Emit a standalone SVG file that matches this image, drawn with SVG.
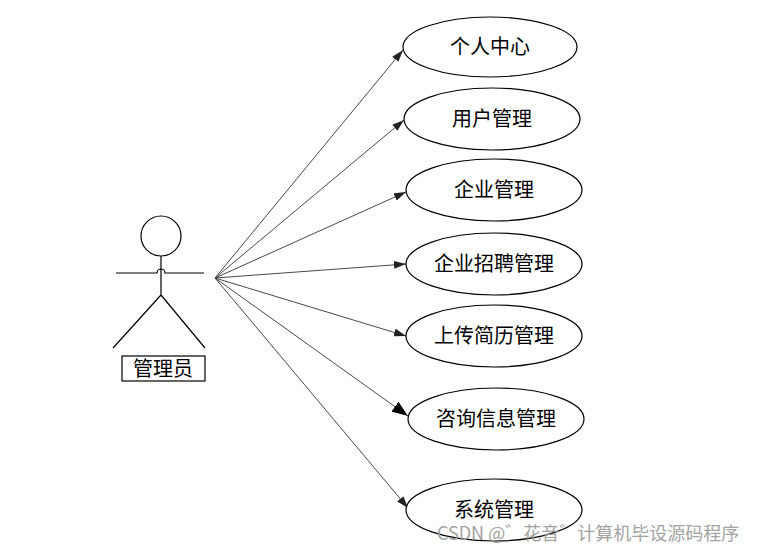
<svg xmlns="http://www.w3.org/2000/svg" width="775" height="553" viewBox="0 0 775 553">
<style>
.n ellipse{fill:#fff;stroke:#000;stroke-width:1.2}
.t{font-family:"Liberation Serif","Noto Sans CJK SC",serif;font-size:20px;text-anchor:middle;dominant-baseline:central}
#edges line{stroke:#333;stroke-width:0.9;marker-end:url(#a)}
</style>
<defs><marker id="a" markerWidth="12" markerHeight="8" refX="12" refY="4" orient="auto" markerUnits="userSpaceOnUse"><path d="M0,0L12,4L0,8z" fill="#222"/></marker>
<marker id="b" markerWidth="16" markerHeight="12" refX="16" refY="6" orient="auto" markerUnits="userSpaceOnUse"><path d="M0,0L16,6L0,12z" fill="#000"/></marker></defs>
<rect width="775" height="553" fill="#fff"/>
<g id="actor" fill="none" stroke="#000" stroke-width="1.2">
<circle cx="161" cy="236" r="20"/>
<path d="M116,273H157A4,4 0 0 1 165,273H204M161,256V295M161,295L113,348M161,295L205,348"/>
<rect x="122" y="356" width="83" height="25"/>
<text class="t" x="163" y="369" fill="#000" stroke="none">管理员</text>
</g>
<g id="edges">
<line x1="215" y1="278" x2="403" y2="50"/>
<line x1="215" y1="278" x2="404" y2="120"/>
<line x1="215" y1="278" x2="406" y2="192"/>
<line x1="215" y1="278" x2="406" y2="264"/>
<line x1="215" y1="278" x2="406" y2="336"/>
<line x1="215" y1="278" x2="408" y2="416" style="marker-end:url(#b)"/>
<line x1="215" y1="278" x2="408" y2="508"/>
</g>
<g id="n1" class="n"><ellipse cx="490" cy="47" rx="87" ry="30"/><text class="t" x="490" y="47">个人中心</text></g>
<g id="n2" class="n"><ellipse cx="492" cy="119" rx="88" ry="31"/><text class="t" x="492" y="119">用户管理</text></g>
<g id="n3" class="n"><ellipse cx="494" cy="190" rx="88" ry="31"/><text class="t" x="494" y="190">企业管理</text></g>
<g id="n4" class="n"><ellipse cx="494" cy="264" rx="88" ry="31"/><text class="t" x="494" y="264">企业招聘管理</text></g>
<g id="n5" class="n"><ellipse cx="494" cy="336" rx="88" ry="31"/><text class="t" x="494" y="336">上传简历管理</text></g>
<g id="n6" class="n"><ellipse cx="496" cy="419" rx="88" ry="31"/><text class="t" x="496" y="419">咨询信息管理</text></g>
<g id="n7" class="n"><ellipse cx="494" cy="510" rx="88" ry="31"/><text class="t" x="494" y="510">系统管理</text></g>
<text x="437" y="540" font-family="'Noto Sans CJK SC',sans-serif" font-size="18" fill="#999" opacity="0.9">CSDN @゛花音゛计算机毕设源码程序</text>
</svg>
